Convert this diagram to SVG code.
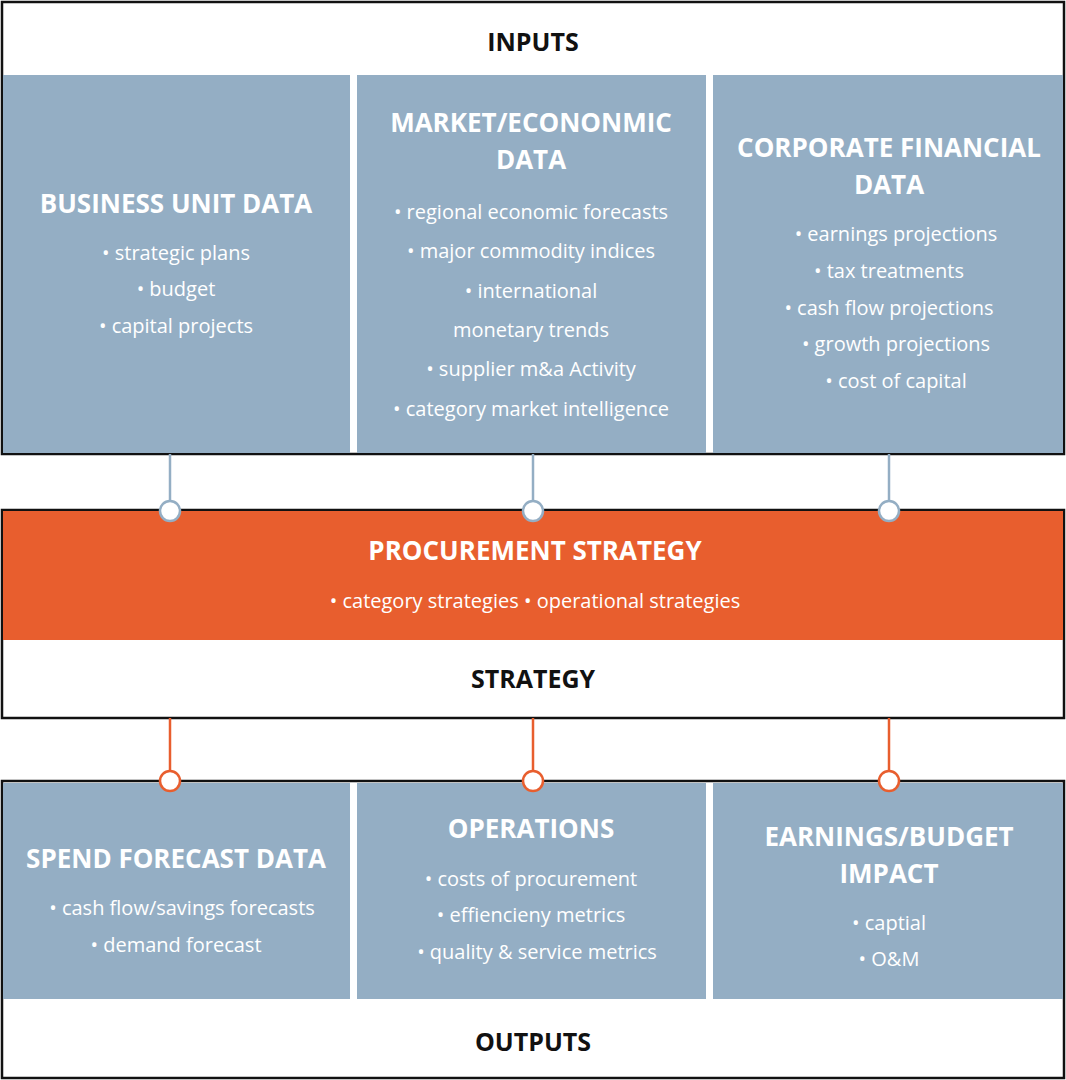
<svg xmlns="http://www.w3.org/2000/svg" width="1066" height="1080" viewBox="0 0 1066 1080">
<style>
.frame{fill:#fff;stroke:#111;stroke-width:2.5}
.panel{fill:#94aec4}
.h{font-family:"Open Sans",sans-serif;font-weight:bold;font-size:26px;fill:#fff;text-anchor:middle}
.b{font-family:"Open Sans",sans-serif;font-size:20px;fill:#fff;text-anchor:middle}
.lab{font-family:"Open Sans",sans-serif;font-weight:bold;font-size:25px;fill:#111;text-anchor:middle}
.cb{stroke:#94aec4;stroke-width:2.5;fill:none}
.cbc{fill:#fff;stroke:#94aec4;stroke-width:2.5}
.co{stroke:#e85e2e;stroke-width:2.5;fill:none}
.coc{fill:#fff;stroke:#e85e2e;stroke-width:2.5}
</style>
<rect width="1066" height="1080" fill="#fff"/>
<g id="inputs">
<rect class="frame" x="2" y="2" width="1062" height="452"/>
<text class="lab" x="533" y="51">INPUTS</text>
</g>
<g id="business-unit">
<rect class="panel" x="3" y="75" width="347" height="378"/>
<text class="h" x="176" y="213">BUSINESS UNIT DATA</text>
<text class="b" x="176" y="260">• strategic plans</text>
<text class="b" x="176" y="296">• budget</text>
<text class="b" x="176" y="333">• capital projects</text>
</g>
<g id="market">
<rect class="panel" x="357" y="75" width="349" height="378"/>
<text class="h" x="531" y="132">MARKET/ECONONMIC</text>
<text class="h" x="531" y="169">DATA</text>
<text class="b" x="531" y="219">• regional economic forecasts</text>
<text class="b" x="531" y="258">• major commodity indices</text>
<text class="b" x="531" y="298">• international</text>
<text class="b" x="531" y="337">monetary trends</text>
<text class="b" x="531" y="376">• supplier m&amp;a Activity</text>
<text class="b" x="531" y="416">• category market intelligence</text>
</g>
<g id="corporate">
<rect class="panel" x="713" y="75" width="350" height="378"/>
<text class="h" x="889" y="157">CORPORATE FINANCIAL</text>
<text class="h" x="889" y="194">DATA</text>
<text class="b" x="896" y="241">• earnings projections</text>
<text class="b" x="889" y="278">• tax treatments</text>
<text class="b" x="889" y="315">• cash flow projections</text>
<text class="b" x="896" y="351">• growth projections</text>
<text class="b" x="896" y="388">• cost of capital</text>
</g>
<g id="strategy">
<rect class="frame" x="2" y="510" width="1062" height="208"/>
<rect x="3" y="511" width="1060" height="129" fill="#e85e2e"/>
<text class="h" x="535" y="560">PROCUREMENT STRATEGY</text>
<text class="b" x="535" y="608">• category strategies • operational strategies</text>
<text class="lab" x="533" y="688">STRATEGY</text>
</g>
<g id="outputs">
<rect class="frame" x="2" y="781" width="1062" height="297"/>
<text class="lab" x="533" y="1051">OUTPUTS</text>
</g>
<g id="spend">
<rect class="panel" x="3" y="783" width="347" height="216"/>
<text class="h" x="176" y="868">SPEND FORECAST DATA</text>
<text class="b" x="182" y="915">• cash flow/savings forecasts</text>
<text class="b" x="176" y="952">• demand forecast</text>
</g>
<g id="operations">
<rect class="panel" x="357" y="783" width="349" height="216"/>
<text class="h" x="531" y="838">OPERATIONS</text>
<text class="b" x="531" y="886">• costs of procurement</text>
<text class="b" x="531" y="922">• effiencieny metrics</text>
<text class="b" x="537" y="959">• quality &amp; service metrics</text>
</g>
<g id="earnings">
<rect class="panel" x="713" y="783" width="350" height="216"/>
<text class="h" x="889" y="846">EARNINGS/BUDGET</text>
<text class="h" x="889" y="883">IMPACT</text>
<text class="b" x="889" y="930">• captial</text>
<text class="b" x="889" y="966">• O&amp;M</text>
</g>
<g id="connectors">
<line class="cb" x1="170" y1="454" x2="170" y2="501"/>
<line class="cb" x1="533" y1="454" x2="533" y2="501"/>
<line class="cb" x1="889" y1="454" x2="889" y2="501"/>
<circle class="cbc" cx="170" cy="511" r="10"/>
<circle class="cbc" cx="533" cy="511" r="10"/>
<circle class="cbc" cx="889" cy="511" r="10"/>
<line class="co" x1="170" y1="718" x2="170" y2="771"/>
<line class="co" x1="533" y1="718" x2="533" y2="771"/>
<line class="co" x1="889" y1="718" x2="889" y2="771"/>
<circle class="coc" cx="170" cy="781" r="10"/>
<circle class="coc" cx="533" cy="781" r="10"/>
<circle class="coc" cx="889" cy="781" r="10"/>
</g>
</svg>
